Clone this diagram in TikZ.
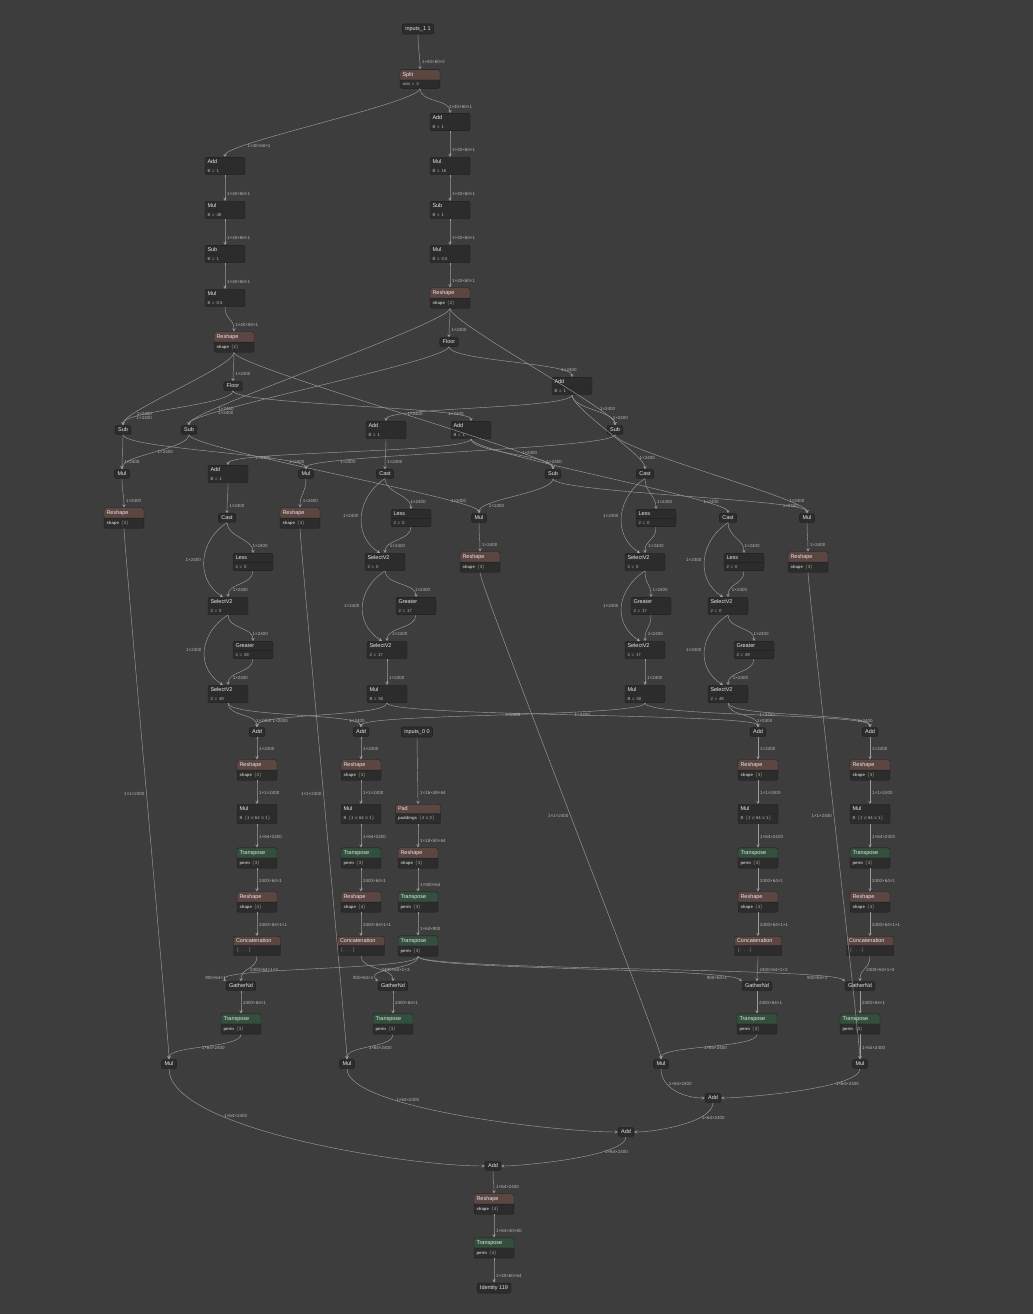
\documentclass[tikz,border=0pt]{standalone}
\usepackage{fontspec}
\setmainfont{Liberation Sans}
\usetikzlibrary{arrows,shapes}
\definecolor{bgcol}{HTML}{3D3D3D}
\definecolor{nodebody}{HTML}{2C2C2C}
\definecolor{nodeline}{HTML}{1E1E1E}
\definecolor{nodetext}{HTML}{E6E6E6}
\definecolor{attrtext}{HTML}{B8B8B8}
\definecolor{layerhdr}{HTML}{5C4642}
\definecolor{shapehdr}{HTML}{33503E}
\definecolor{edgecol}{HTML}{9C9C9C}
\definecolor{lblcol}{HTML}{B4B4B4}
\tikzset{
  op/.style={draw=nodeline,fill=nodebody,rounded corners=2pt,text=nodetext,
    font=\fontsize{5.5}{6}\selectfont,inner xsep=3pt,inner ysep=2.5pt},
  opbox/.style={rectangle split,rectangle split parts=2,draw=nodeline,
    rectangle split part fill={#1,nodebody},rounded corners=2pt,text=nodetext,
    font=\fontsize{5.5}{6}\selectfont,text width=35pt,align=left,
    inner xsep=2.5pt,inner ysep=2.4pt},
  edge/.style={draw=edgecol,line width=.45pt,-stealth},
  lbl/.style={text=lblcol,font=\fontsize{4.5}{5}\selectfont,anchor=west,inner sep=2pt}
}
\newcommand{\attr}[1]{{\fontsize{4.3}{5}\selectfont\color{attrtext}#1}}
\begin{document}
\begin{tikzpicture}[x=1pt,y=-1pt]
\fill[bgcol] (0,0) rectangle (1033,1314);
\useasboundingbox (0,0) rectangle (1033,1314);
% one-line operators
\foreach \n/\x/\y/\t in {in1/418/29/inputs\_1 1,floorR/449/342/Floor,floorL/233/386/Floor,
  subA/123/430/Sub,subB/189/430/Sub,subE/615/430/Sub,mulA/122/474/Mul,mulB/306/474/Mul,
  castB/385/474/Cast,subD/553/474/Sub,castD/645/474/Cast,castA/227/518/Cast,mulC/479/518/Mul,
  castE/728/518/Cast,mulD/807/518/Mul,aA/257/732/Add,aB/361/732/Add,aC/758/732/Add,aD/870/732/Add,
  in0/417/732/inputs\_0 0,gA/241/986/GatherNd,gB/393/986/GatherNd,gC/757/986/GatherNd,gD/860/986/GatherNd,
  mA/169/1064/Mul,mB/347/1064/Mul,mC/661/1064/Mul,mD/860/1064/Mul,
  fA/713/1098/Add,fB/626/1132/Add,fC/493/1166/Add,ident/494/1288/Identity 119}
  \node[op] (\n) at (\x,\y) {\t};
% operators with attributes
\foreach \n/\x/\y/\t/\a/\h in {split/420/79/Split/axis = 3/layerhdr,
  r1/450/122/Add/B = 1/nodebody,r2/450/166/Mul/B = 16/nodebody,r3/450/210/Sub/B = 1/nodebody,
  r4/450/254/Mul/B = 0.5/nodebody,reshR/450/298/Reshape/\textbf{shape} $\langle$2$\rangle$/layerhdr,
  l1/225/166/Add/B = 1/nodebody,l2/225/210/Mul/B = 48/nodebody,l3/225/254/Sub/B = 1/nodebody,
  l4/225/298/Mul/B = 0.5/nodebody,reshL/234/342/Reshape/\textbf{shape} $\langle$2$\rangle$/layerhdr,
  addF/572/386/Add/B = 1/nodebody,addC/386/430/Add/B = 1/nodebody,addD/471/430/Add/B = 1/nodebody,
  addE/228/474/Add/B = 1/nodebody,
  rsA/124/518/Reshape/\textbf{shape} $\langle$3$\rangle$/layerhdr,rsB/300/518/Reshape/\textbf{shape} $\langle$3$\rangle$/layerhdr,
  rsC/480/562/Reshape/\textbf{shape} $\langle$3$\rangle$/layerhdr,rsD/808/562/Reshape/\textbf{shape} $\langle$3$\rangle$/layerhdr,
  lessA/253/562/Less/2 = 0/nodebody,lessB/411/518/Less/2 = 0/nodebody,lessD/656/518/Less/2 = 0/nodebody,
  lessE/744/562/Less/2 = 0/nodebody,
  selA1/228/606/SelectV2/2 = 0/nodebody,selB1/385/562/SelectV2/2 = 0/nodebody,
  selD1/645/562/SelectV2/2 = 0/nodebody,selE1/728/606/SelectV2/2 = 0/nodebody,
  grA/253/650/Greater/2 = 49/nodebody,grB/416/606/Greater/2 = 17/nodebody,
  grD/651/606/Greater/2 = 17/nodebody,grE/754/650/Greater/2 = 49/nodebody,
  selA2/228/694/SelectV2/2 = 49/nodebody,selB2/387/650/SelectV2/2 = 17/nodebody,
  selD2/645/650/SelectV2/2 = 17/nodebody,selE2/728/694/SelectV2/2 = 49/nodebody,
  mulB50/387/694/Mul/B = 50/nodebody,mulD50/645/694/Mul/B = 50/nodebody,
  prs/418/858/Reshape/\textbf{shape} $\langle$3$\rangle$/layerhdr,
  ptr1/418/902/Transpose/\textbf{perm} $\langle$3$\rangle$/shapehdr,
  ptr2/418/946/Transpose/\textbf{perm} $\langle$3$\rangle$/shapehdr,
  frs/494/1204/Reshape/\textbf{shape} $\langle$4$\rangle$/layerhdr,
  ftr/494/1248/Transpose/\textbf{perm} $\langle$4$\rangle$/shapehdr}
  \node[opbox=\h] (\n) at (\x,\y) {\t\nodepart{two}\attr{\a}};
\node[opbox=layerhdr,text width=40pt] (pad) at (418,814) {Pad\nodepart{two}\attr{\textbf{paddings} $\langle$4$\times$2$\rangle$}};
% four gather columns
\foreach \c/\x/\g in {A/257/241,B/361/393,C/758/757,D/870/860} {
  \node[opbox=layerhdr] (rs1\c) at (\x,770) {Reshape\nodepart{two}\attr{\textbf{shape} $\langle$3$\rangle$}};
  \node[opbox=nodebody] (mu\c) at (\x,814) {Mul\nodepart{two}\attr{B $\langle$1$\times$64$\times$1$\rangle$}};
  \node[opbox=shapehdr] (tr1\c) at (\x,858) {Transpose\nodepart{two}\attr{\textbf{perm} $\langle$3$\rangle$}};
  \node[opbox=layerhdr] (rs2\c) at (\x,902) {Reshape\nodepart{two}\attr{\textbf{shape} $\langle$4$\rangle$}};
  \node[opbox=layerhdr,text width=42pt] (cc\c) at (\x,946) {Concatenation\nodepart{two}\attr{$\langle\dots\rangle$}};
  \node[opbox=shapehdr] (tr2\c) at (\g,1024) {Transpose\nodepart{two}\attr{\textbf{perm} $\langle$3$\rangle$}};
  \foreach \a/\b/\l in {a\c/rs1\c/1×2400,rs1\c/mu\c/1×1×2400,mu\c/tr1\c/1×64×2400,
    tr1\c/rs2\c/2400×64×1,rs2\c/cc\c/2400×64×1×1,cc\c/g\c/2400×64×1×3,
    g\c/tr2\c/2400×64×1,tr2\c/m\c/1×64×2400}
    \draw[edge] (\a.south) .. controls +(0,14) and +(0,-14) .. node[lbl,pos=.55]{\l} (\b.north);
  \draw[edge] (ptr2.south) .. controls +(0,14) and +(-14,-14) .. node[lbl,anchor=east,pos=.9]{900×64×1} (g\c.north west);
}
% skip connectors round the Less / Greater boxes
\foreach \a/\b in {castA/selA1,selA1/selA2,castB/selB1,selB1/selB2,castD/selD1,selD1/selD2,castE/selE1,selE1/selE2}
  \draw[edge] (\a.south) .. controls +(-28,18) and +(-28,-18) .. node[lbl,anchor=east,pos=.5,xshift=-1pt]{1×2400} ([xshift=-5pt]\b.north);
% long weight connectors
\foreach \a/\b in {rsA/mA,rsB/mB,rsC/mC,rsD/mD}
  \draw[edge] (\a.south) .. controls +(0,14) and +(0,-14) .. node[lbl,anchor=east,pos=.5]{1×1×2400} (\b.north);
\foreach \a/\b/\l in {subB/mulA/1×2400,mulD50/aD/1×2400,mulB50/aC/1×2400,mulD50/aB/1×2400}
  \draw[edge] (\a.south) .. controls +(0,14) and +(0,-14) .. node[lbl,pos=.5]{\l} (\b.north);
% connectors
\foreach \a/\b/\l in {in1/split/1×40×60×2,split/r1/1×40×60×1,split/l1/1×40×60×1,
  r1/r2/1×40×60×1,r2/r3/1×40×60×1,r3/r4/1×40×60×1,r4/reshR/1×40×60×1,
  l1/l2/1×40×60×1,l2/l3/1×40×60×1,l3/l4/1×40×60×1,l4/reshL/1×40×60×1,
  reshR/floorR/1×2400,reshR/subB/1×2400,reshR/subE/1×2400,floorR/addF/1×2400,floorR/subB/1×2400,
  reshL/floorL/1×2400,reshL/subA/1×2400,reshL/subD/1×2400,floorL/subA/1×2400,floorL/addD/1×2400,
  addF/addC/1×2400,addF/subE/1×2400,addF/castD/1×2400,addD/subD/1×2400,addD/addE/1×2400,
  addD/castE/1×2400,addC/castB/1×2400,addE/castA/1×2400,
  subA/mulA/1×2400,subA/mulB/1×2400,subE/mulB/1×2400,
  subD/mulC/1×2400,subB/mulC/1×2400,subD/mulD/1×2400,subE/mulD/1×2400,
  mulA/rsA/1×2400,mulB/rsB/1×2400,mulC/rsC/1×2400,mulD/rsD/1×2400,
  castA/lessA/1×2400,lessA/selA1/1×2400,selA1/grA/1×2400,grA/selA2/1×2400,
  castB/lessB/1×2400,lessB/selB1/1×2400,selB1/grB/1×2400,grB/selB2/1×2400,selB2/mulB50/1×2400,
  castD/lessD/1×2400,lessD/selD1/1×2400,selD1/grD/1×2400,grD/selD2/1×2400,selD2/mulD50/1×2400,
  castE/lessE/1×2400,lessE/selE1/1×2400,selE1/grE/1×2400,grE/selE2/1×2400,
  selA2/aA/1×2400,mulB50/aA/1×2400,selA2/aB/1×2400,selE2/aC/1×2400,selE2/aD/1×2400,
  in0/pad/1×16×48×64,pad/prs/1×18×50×64,prs/ptr1/1×900×64,ptr1/ptr2/1×64×900,
  fC/frs/1×64×2400,frs/ftr/1×64×40×60,ftr/ident/1×40×60×64}
  \draw[edge] (\a.south) .. controls +(0,14) and +(0,-14) .. node[lbl,pos=.8]{\l} (\b.north);
% final sums
\draw[edge] (mC.south) .. controls +(0,20) and +(-20,0) .. node[lbl,pos=.3]{1×64×2400} (fA.west);
\draw[edge] (mD.south) .. controls +(0,20) and +(20,0) .. node[lbl,pos=.3]{1×64×2400} (fA.east);
\draw[edge] (fA.south) .. controls +(0,20) and +(20,0) .. node[lbl,pos=.3]{1×64×2400} (fB.east);
\draw[edge] (mB.south) .. controls +(0,40) and +(-60,0) .. node[lbl,pos=.3]{1×64×2400} (fB.west);
\draw[edge] (fB.south) .. controls +(0,20) and +(20,0) .. node[lbl,pos=.3]{1×64×2400} (fC.east);
\draw[edge] (mA.south) .. controls +(0,60) and +(-80,0) .. node[lbl,pos=.3]{1×64×2400} (fC.west);
\end{tikzpicture}
\end{document}
